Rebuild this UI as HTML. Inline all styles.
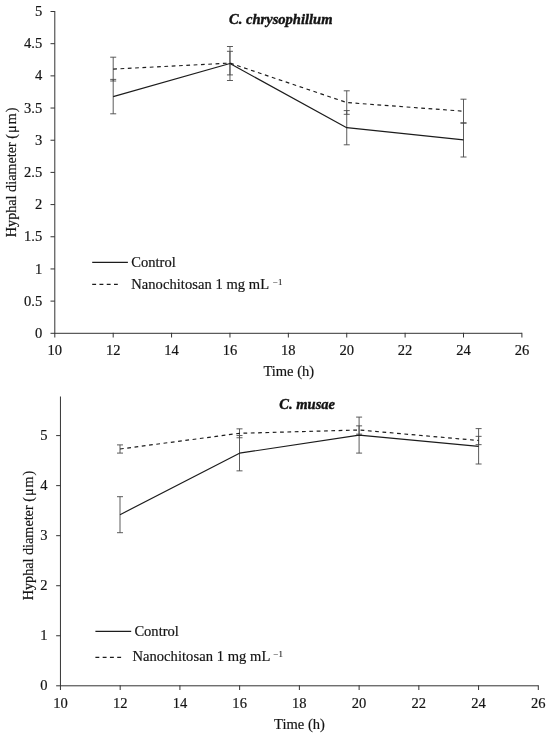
<!DOCTYPE html>
<html lang="en">
<head>
<meta charset="utf-8">
<title>Hyphal diameter</title>
<style>
html,body{margin:0;padding:0;background:#fff;}
body{width:550px;height:736px;overflow:hidden;}
svg{display:block;}
text{font-family:"Liberation Serif","Times New Roman",serif;fill:#141414;}
.t{font-size:14.55px;stroke:#141414;stroke-width:0.18px;}
.ttl{font-size:14.55px;font-weight:bold;font-style:italic;stroke:#141414;stroke-width:0.4px;}
.sup{font-size:8.8px;stroke:#141414;stroke-width:0.12px;}
</style>
</head>
<body>
<svg width="550" height="736" viewBox="0 0 550 736">
<rect x="0" y="0" width="550" height="736" fill="#ffffff"/>

<g stroke="#333333" stroke-width="1" fill="none" stroke-linecap="butt">
<line x1="54.8" y1="11" x2="54.8" y2="337.5"/>
<line x1="50.5" y1="333.3" x2="521.9" y2="333.3"/>
<line x1="113.19" y1="332.8" x2="113.19" y2="337.5"/>
<line x1="171.57" y1="332.8" x2="171.57" y2="337.5"/>
<line x1="229.96" y1="332.8" x2="229.96" y2="337.5"/>
<line x1="288.35" y1="332.8" x2="288.35" y2="337.5"/>
<line x1="346.74" y1="332.8" x2="346.74" y2="337.5"/>
<line x1="405.12" y1="332.8" x2="405.12" y2="337.5"/>
<line x1="463.51" y1="332.8" x2="463.51" y2="337.5"/>
<line x1="521.9" y1="332.8" x2="521.9" y2="337.5"/>
<line x1="50.5" y1="301.12" x2="54.8" y2="301.12"/>
<line x1="50.5" y1="268.94" x2="54.8" y2="268.94"/>
<line x1="50.5" y1="236.76" x2="54.8" y2="236.76"/>
<line x1="50.5" y1="204.58" x2="54.8" y2="204.58"/>
<line x1="50.5" y1="172.4" x2="54.8" y2="172.4"/>
<line x1="50.5" y1="140.22" x2="54.8" y2="140.22"/>
<line x1="50.5" y1="108.04" x2="54.8" y2="108.04"/>
<line x1="50.5" y1="75.86" x2="54.8" y2="75.86"/>
<line x1="50.5" y1="43.68" x2="54.8" y2="43.68"/>
<line x1="50.5" y1="11.5" x2="54.8" y2="11.5"/>
</g>
<g class="t" text-anchor="end">
<text x="42.2" y="337.9">0</text>
<text x="42.2" y="305.72">0.5</text>
<text x="42.2" y="273.54">1</text>
<text x="42.2" y="241.36">1.5</text>
<text x="42.2" y="209.18">2</text>
<text x="42.2" y="177">2.5</text>
<text x="42.2" y="144.82">3</text>
<text x="42.2" y="112.64">3.5</text>
<text x="42.2" y="80.46">4</text>
<text x="42.2" y="48.28">4.5</text>
<text x="42.2" y="16.1">5</text>
</g>
<g class="t" text-anchor="middle">
<text x="54.8" y="354.8">10</text>
<text x="113.19" y="354.8">12</text>
<text x="171.57" y="354.8">14</text>
<text x="229.96" y="354.8">16</text>
<text x="288.35" y="354.8">18</text>
<text x="346.74" y="354.8">20</text>
<text x="405.12" y="354.8">22</text>
<text x="463.51" y="354.8">24</text>
<text x="521.9" y="354.8">26</text>
<text x="288.8" y="376">Time (h)</text>
<text transform="translate(16.4 237.2) rotate(-90)" text-anchor="start" style="font-size:14.2px">Hyphal diameter <tspan style="letter-spacing:1px">(μm)</tspan></text>
</g>
<text class="ttl" x="229" y="24.2">C. chrysophillum</text>
<g stroke="#4a4a4a" stroke-width="0.9" fill="none">
<path d="M113.19 79.4V113.8M110.19 79.4H116.19M110.19 113.8H116.19"/>
<path d="M229.96 46.5V80.5M226.96 46.5H232.96M226.96 80.5H232.96"/>
<path d="M346.74 110.6V144.8M343.74 110.6H349.74M343.74 144.8H349.74"/>
<path d="M463.51 122.8V157M460.51 122.8H466.51M460.51 157H466.51"/>
<path d="M113.19 57.2V81M110.19 57.2H116.19M110.19 81H116.19"/>
<path d="M229.96 51.3V74.9M226.96 51.3H232.96M226.96 74.9H232.96"/>
<path d="M346.74 90.8V114.3M343.74 90.8H349.74M343.74 114.3H349.74"/>
<path d="M463.51 99.2V123.2M460.51 99.2H466.51M460.51 123.2H466.51"/>
</g>
<polyline points="113.19,96.6 229.96,63.5 346.74,127.7 463.51,139.9" fill="none" stroke="#1c1c1c" stroke-width="1.18" stroke-linejoin="round"/>
<polyline points="113.19,69.1 229.96,63.1 346.74,102.55 463.51,111.2" fill="none" stroke="#1c1c1c" stroke-width="1.18" stroke-dasharray="3.75 3.573" stroke-linejoin="round"/>
<line x1="92.2" y1="262.45" x2="127.9" y2="262.45" stroke="#1c1c1c" stroke-width="1.18"/>
<line x1="92.2" y1="284.4" x2="117.8" y2="284.4" stroke="#1c1c1c" stroke-width="1.18" stroke-dasharray="3.9 3.37"/>
<text class="t" x="131.3" y="266.6">Control</text>
<text class="t" style="letter-spacing:0.05px" x="131.2" y="288.7">Nanochitosan 1 mg mL</text>
<text class="sup" x="273" y="284.7">−1</text>
<g stroke="#333333" stroke-width="1" fill="none" stroke-linecap="butt">
<line x1="60.45" y1="396.5" x2="60.45" y2="690"/>
<line x1="56.15" y1="685.8" x2="538.3" y2="685.8"/>
<line x1="120.18" y1="685.3" x2="120.18" y2="690"/>
<line x1="179.91" y1="685.3" x2="179.91" y2="690"/>
<line x1="239.64" y1="685.3" x2="239.64" y2="690"/>
<line x1="299.38" y1="685.3" x2="299.38" y2="690"/>
<line x1="359.11" y1="685.3" x2="359.11" y2="690"/>
<line x1="418.84" y1="685.3" x2="418.84" y2="690"/>
<line x1="478.57" y1="685.3" x2="478.57" y2="690"/>
<line x1="538.3" y1="685.3" x2="538.3" y2="690"/>
<line x1="56.15" y1="635.76" x2="60.45" y2="635.76"/>
<line x1="56.15" y1="585.72" x2="60.45" y2="585.72"/>
<line x1="56.15" y1="535.68" x2="60.45" y2="535.68"/>
<line x1="56.15" y1="485.64" x2="60.45" y2="485.64"/>
<line x1="56.15" y1="435.6" x2="60.45" y2="435.6"/>
</g>
<g class="t" text-anchor="end">
<text x="47.5" y="690.4">0</text>
<text x="47.5" y="640.36">1</text>
<text x="47.5" y="590.32">2</text>
<text x="47.5" y="540.28">3</text>
<text x="47.5" y="490.24">4</text>
<text x="47.5" y="440.2">5</text>
</g>
<g class="t" text-anchor="middle">
<text x="60.45" y="708">10</text>
<text x="120.18" y="708">12</text>
<text x="179.91" y="708">14</text>
<text x="239.64" y="708">16</text>
<text x="299.38" y="708">18</text>
<text x="359.11" y="708">20</text>
<text x="418.84" y="708">22</text>
<text x="478.57" y="708">24</text>
<text x="538.3" y="708">26</text>
<text x="299.5" y="728.5">Time (h)</text>
<text transform="translate(33.1 600.3) rotate(-90)" text-anchor="start" style="font-size:14.2px">Hyphal diameter <tspan style="letter-spacing:1px">(μm)</tspan></text>
</g>
<text class="ttl" x="279.3" y="409.3">C. musae</text>
<g stroke="#4a4a4a" stroke-width="0.9" fill="none">
<path d="M120 496.7V532.7M117 496.7H123M117 532.7H123"/>
<path d="M239.5 435.55V470.85M236.5 435.55H242.5M236.5 470.85H242.5"/>
<path d="M359.1 417.1V453.1M356.1 417.1H362.1M356.1 453.1H362.1"/>
<path d="M478.6 428.6V464M475.6 428.6H481.6M475.6 464H481.6"/>
<path d="M120 444.9V453.1M117 444.9H123M117 453.1H123"/>
<path d="M239.5 428.85V437.75M236.5 428.85H242.5M236.5 437.75H242.5"/>
<path d="M359.1 425.85V434.15M356.1 425.85H362.1M356.1 434.15H362.1"/>
<path d="M478.6 436.35V444.65M475.6 436.35H481.6M475.6 444.65H481.6"/>
</g>
<polyline points="120,514.7 239.5,453.2 359.1,435.1 478.6,446.3" fill="none" stroke="#1c1c1c" stroke-width="1.18" stroke-linejoin="round"/>
<polyline points="120,449 239.5,433.3 359.1,430 478.6,440.5" fill="none" stroke="#1c1c1c" stroke-width="1.18" stroke-dasharray="3.75 3.573" stroke-linejoin="round"/>
<line x1="95.4" y1="631.45" x2="131.2" y2="631.45" stroke="#1c1c1c" stroke-width="1.18"/>
<line x1="95.4" y1="657.35" x2="121.4" y2="657.35" stroke="#1c1c1c" stroke-width="1.18" stroke-dasharray="3.9 3.37"/>
<text class="t" x="134.4" y="636">Control</text>
<text class="t" style="letter-spacing:0.05px" x="132.4" y="660.6">Nanochitosan 1 mg mL</text>
<text class="sup" x="273.6" y="656.6">−1</text>
</svg>
</body>
</html>
